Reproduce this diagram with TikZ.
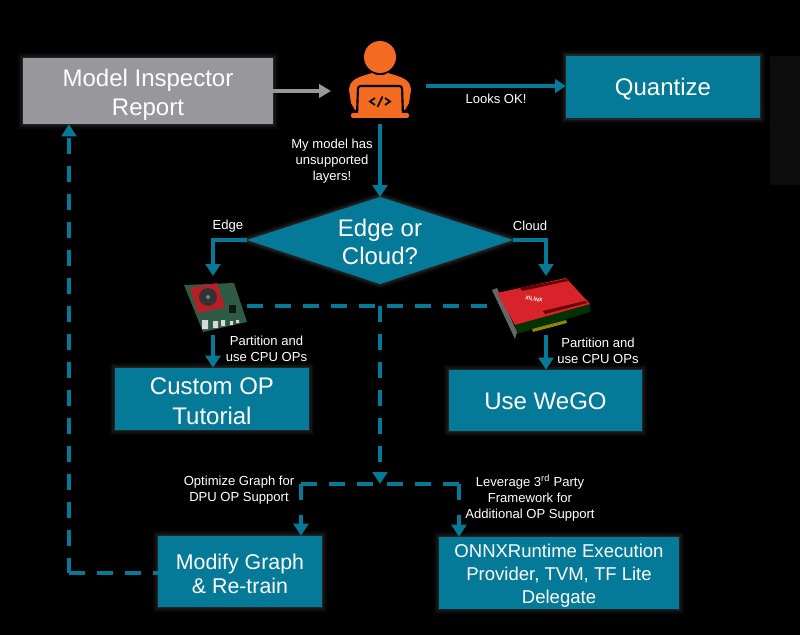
\documentclass[tikz,border=0pt]{standalone}
\usepackage{fontspec}
\setmainfont{Liberation Sans}
\usetikzlibrary{arrows.meta,calc}
\definecolor{teal}{HTML}{047A98}
\definecolor{greybox}{HTML}{98989C}
\definecolor{orangeicon}{HTML}{F26B21}
\definecolor{redboard}{HTML}{D8232A}
\definecolor{pcb}{HTML}{2F5A44}
\tikzset{
  x=0.75pt,y=-0.75pt,
  glow/.style={preaction={draw=white,draw opacity=.03,line width=7pt},preaction={draw=white,draw opacity=.05,line width=4.5pt},preaction={draw=white,draw opacity=.07,line width=2pt}},
  boxnode/.style={draw=none,fill=teal,text=white,align=center,inner sep=0pt,font=\fontsize{18}{22}\selectfont,glow},
  lbl/.style={text=white,align=center,inner sep=0pt,font=\fontsize{9.8}{12}\selectfont},
  conn/.style={draw=teal,line width=2.6pt,-{Triangle[length=9pt,width=11pt]}},
  dashconn/.style={draw=teal,line width=3pt,dash pattern=on 12pt off 9pt},
  tipconn/.style={draw=teal,line width=3pt,dash pattern=on 12pt off 9pt,-{Triangle[length=9pt,width=11pt]}},
  dropconn/.style={draw=teal,line width=3pt,dash pattern=on 12pt off 11pt on 40pt off 1pt,-{Triangle[length=9pt,width=11pt]}},
}
\begin{document}
\begin{tikzpicture}
\path[use as bounding box,fill=black] (0,0) rectangle (800,635);
% faint window at the right edge
\fill[fill=white!5!black] (770,56) rectangle (800,185);
% boxes
\node[boxnode,fill=greybox,minimum width=187.5pt,minimum height=49.5pt] (inspector) at (148,91) {\rule{0pt}{19pt}Model Inspector\\Report};
\node[boxnode,minimum width=145.5pt,minimum height=47pt] (quantize) at (663,87) {\rule{0pt}{16pt}Quantize};
\node[boxnode,minimum width=145.5pt,minimum height=46.5pt] (custom) at (212,399) {\rule{0pt}{16pt}Custom OP\\Tutorial};
\node[boxnode,minimum width=144.75pt,minimum height=45.75pt] (wego) at (545.5,400.5) {\rule{0pt}{14pt}Use WeGO};
\node[boxnode,minimum width=123pt,minimum height=53.25pt,font=\fontsize{16}{18}\selectfont] (modify) at (240,571.5) {\rule{0pt}{15pt}Modify Graph\\\& Re-train};
\node[boxnode,minimum width=180pt,minimum height=54pt,font=\fontsize{13.9}{17}\selectfont] (onnx) at (559,573) {\rule{0pt}{14pt}ONNXRuntime Execution\\Provider, TVM, TF Lite\\Delegate};
% diamond
\draw[fill=teal,draw=none,glow] (247,240) -- (380,197) -- (513,240) -- (380,284) -- cycle;
\node[text=white,align=center,inner sep=0pt,font=\fontsize{18}{21}\selectfont] (decision) at (380,242) {Edge or\\Cloud?};
\coordinate (dL) at (247,240);
\coordinate (dR) at (513,240);
\coordinate (dT) at (380,197);
% person
\fill[orangeicon] (380,57) circle (16);
\fill[orangeicon] (351,103) -- (349,90) .. controls (350,80) and (355,78) .. (372,73)
  .. controls (376,76) and (384,76) .. (388,73) .. controls (405,78) and (410,80) .. (411,90) -- (409,103) -- (405,110) -- (355,110) -- cycle;
\draw[black,line width=1.6pt,fill=orangeicon,rounded corners=2pt] (357,116) -- (358,86) -- (402,86) -- (403,116);
\fill[orangeicon,rounded corners=1.5pt] (351,113) rectangle (409,118);
\draw[black,line width=1.3pt] (375,98) -- (370,101.5) -- (375,105) (385,98) -- (390,101.5) -- (385,105) (382.5,96.5) -- (377.5,107);
\coordinate (personL) at (331,91);
\coordinate (personR) at (426,86);
\coordinate (personB) at (380,124);
% edge board
\fill[pcb] (184,285) -- (234,283) -- (247,322) -- (203,332) -- cycle;
\fill[redboard!85!black] (190,288) -- (217,283) -- (225,307) -- (198,313) -- cycle;
\fill[black!80] (208,297) circle (9);
\fill[black!50] (208,297) circle (2);
\fill[white!85!black] (202,320) rectangle (208,329) (213,321) rectangle (218,328) (221,320) rectangle (225,326) (230,321) rectangle (233,325) (236,320) rectangle (239,323);
\fill[black!70!pcb] (229,305) rectangle (236,313);
\coordinate (boardB) at (213,335);
\coordinate (boardR) at (247,306);
% alveo card
\fill[black!80!green] (515,325) -- (590,304) -- (590,312) -- (527,331) -- (516,334) -- cycle;
\fill[gray!80!black] (492,290) -- (497,288) -- (517,332) -- (515,339) -- cycle;
\fill[redboard] (497,293) -- (566,278) -- (590,304) -- (515,325) -- cycle;
\fill[black!60!red] (520,288) -- (566,279) -- (568,281) -- (522,291) -- cycle;
\fill[black!60!red] (543,311) -- (585,301) -- (587,303) -- (545,314) -- cycle;
\fill[olive] (532,329) -- (566,320) -- (567,323) -- (533,332) -- cycle;
\node[text=white,font=\fontsize{4}{4}\selectfont\bfseries,inner sep=0pt,rotate=-10] (cardlogo) at (534,299) {XILINX};
\coordinate (cardB) at (546,335);
\coordinate (cardT) at (546,276);
\coordinate (cardL) at (491,306);
\coordinate (boardT) at (213,276);
% solid connectors
\draw[draw=greybox,line width=2.6pt,-{Triangle[length=9pt,width=10pt]}] (inspector.east) -- (personL);
\draw[conn,-{Triangle[length=8pt,width=10pt]}] (personR) -- (quantize.west |- personR);
\draw[conn] (personB) -- (dT);
\draw[conn] (dL) -- (213,240) -- (boardT);
\draw[conn] (dR) -- (546,240) -- (cardT);
\draw[conn] (boardB) -- (custom.north -| boardB);
\draw[conn] (cardB) -- (wego.north -| cardB);
% dashed connectors
\coordinate (junction) at (380,484);
\coordinate (midh) at (380,306);
\coordinate (leftc) at (301,484);
\coordinate (rightc) at (459,484);
\coordinate (backc) at (69,573);
\draw[dashconn] (boardR) -- (cardL);
\draw[tipconn] (midh) -- (junction);
\draw[dashconn] (leftc) -- (junction);
\draw[dashconn] (rightc) -- (junction);
\draw[dropconn] (leftc) -- (modify.north -| leftc);
\draw[dropconn] (rightc) -- (onnx.north -| rightc);
\draw[dashconn,dash phase=8.25pt] (modify.west |- backc) -- (backc);
\draw[tipconn,dash phase=1pt] (backc) -- (inspector.south -| backc);
% labels
\node[lbl] (looks) at (496,99) {Looks OK!};
\node[lbl] (unsup) at (332,161) {My model has\\unsupported\\layers!};
\node[lbl] (edge) at (228,226) {Edge};
\node[lbl] (cloud) at (530,226) {Cloud};
\node[lbl] (pleft) at (266.5,349) {Partition and\\use CPU OPs};
\node[lbl] (pright) at (598,351) {Partition and\\use CPU OPs};
\node[lbl] (opt) at (239,490) {Optimize Graph for\\DPU OP Support};
\node[lbl] (lev) at (530,498) {Leverage 3\textsuperscript{rd} Party\\Framework for\\Additional OP Support};
\end{tikzpicture}
\end{document}
